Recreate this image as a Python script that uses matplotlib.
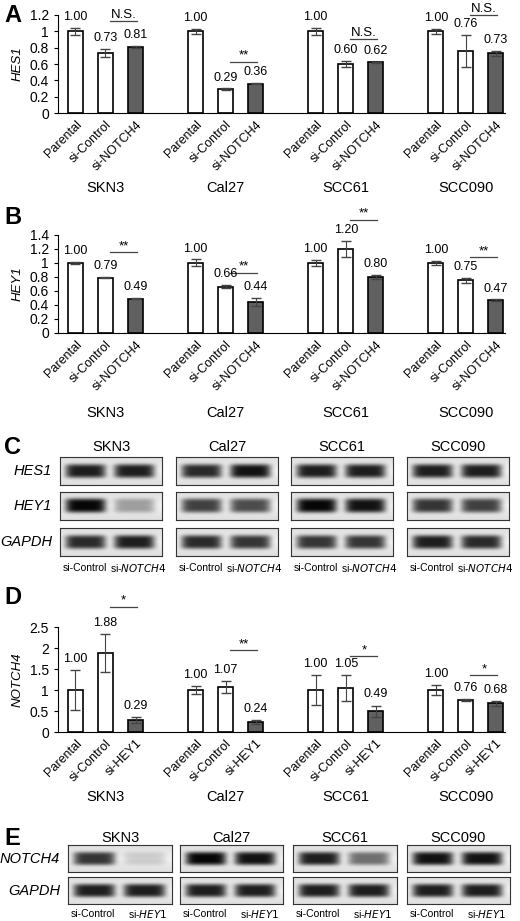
import numpy as np
from matplotlib import pyplot as plt

W, H = 520, 921
lines = ["SKN3", "Cal27", "SCC61", "SCC090"]

hes1 = [[1.00, 0.73, 0.81], [1.00, 0.29, 0.36], [1.00, 0.60, 0.62], [1.00, 0.76, 0.73]]
hes1_err = [[0.04, 0.05, 0.01], [0.03, 0.01, 0.005], [0.04, 0.04, 0.01], [0.03, 0.20, 0.03]]
hes1_sig = ["N.S.", "**", "N.S.", "N.S."]
hes1_sig_y = [1.13, 0.63, 0.91, 1.2]

hey1 = [[1.00, 0.79, 0.49], [1.00, 0.66, 0.44], [1.00, 1.20, 0.80], [1.00, 0.75, 0.47]]
hey1_err = [[0.01, 0.01, 0.005], [0.05, 0.02, 0.06], [0.04, 0.11, 0.03], [0.03, 0.03, 0.01]]
hey1_sig = ["**", "**", "**", "**"]
hey1_sig_y = [1.15, 0.86, 1.62, 1.08]

notch4 = [[1.00, 1.88, 0.29], [1.00, 1.07, 0.24], [1.00, 1.05, 0.49], [1.00, 0.76, 0.68]]
notch4_err = [[0.48, 0.45, 0.07], [0.10, 0.15, 0.05], [0.36, 0.30, 0.14], [0.11, 0.02, 0.06]]
notch4_sig = ["*", "**", "*", "*"]
notch4_sig_y = [2.98, 1.95, 1.80, 1.35]

# western blot band intensities (left lane, right lane)
blot_c = {"HES1": [[0.9, 0.9], [0.85, 0.95], [0.9, 0.9], [0.9, 0.9]],
          "HEY1": [[1.0, 0.35], [0.75, 0.7], [1.0, 0.95], [0.8, 0.75]],
          "GAPDH": [[0.85, 0.9], [0.85, 0.8], [0.8, 0.8], [0.9, 0.85]]}
blot_e = {"NOTCH4": [[0.8, 0.15], [1.0, 0.95], [0.9, 0.55], [0.95, 0.95]],
          "GAPDH": [[0.9, 0.9], [0.9, 0.9], [0.9, 0.9], [0.9, 0.9]]}

fig = plt.figure(figsize=(W / 100, H / 100), dpi=100)
plt.rcParams['font.family'] = ['Liberation Sans', 'DejaVu Sans']


def px_axes(x0, y0, x1, y1):
    return fig.add_axes([x0 / W, 1 - y1 / H, (x1 - x0) / W, (y1 - y0) / H])


def letter(s, x, y):
    fig.text(x / W, 1 - y / H, s, fontsize=17, fontweight='bold', va='center')


def bar_panel(top, bottom, vals, errs, sigs, sig_y, ymax, step, ylab, third, name_y):
    ax = px_axes(58, top, 505, bottom)
    for g in range(4):
        xs = [g * 4 + i for i in range(3)]
        cols = ['white', 'white', '#606060']
        ax.bar(xs, vals[g], 0.5, yerr=errs[g], color=cols, edgecolor='black', lw=1.2,
               error_kw=dict(ecolor='#444444', capsize=3.5, lw=0.8), clip_on=False)
        for x, v, e in zip(xs, vals[g], errs[g]):
            ax.text(x, v + e + ymax * 0.05, f"{v:.2f}", ha='center', va='bottom', fontsize=9)
        ax.plot([xs[1] + 0.15, xs[2] + 0.05], [sig_y[g]] * 2, color='#444444', lw=0.9, clip_on=False)
        ax.text((xs[1] + xs[2]) / 2 + 0.1, sig_y[g], sigs[g], ha='center', va='bottom', fontsize=9.5)
        fig.text((58 + (g * 4 + 1 + 0.58) / 14.88 * 447) / W, 1 - name_y / H, lines[g],
                 ha='center', va='center', fontsize=10.5)
    ax.set_xlim(-0.58, 14.3)
    ax.set_ylim(0, ymax)
    ticks = np.arange(0, ymax + 1e-6, step)
    ax.set_yticks(ticks)
    ax.set_yticklabels([f"{t:g}" for t in ticks], fontsize=10)
    ax.set_xticks([g * 4 + i for g in range(4) for i in range(3)])
    ax.set_xticklabels(["Parental", "si-Control", third] * 4, rotation=45, ha='right',
                       rotation_mode='anchor', fontsize=9)
    ax.tick_params(axis='x', length=0, pad=4)
    ax.tick_params(axis='y', length=3)
    for s in ['top', 'right']:
        ax.spines[s].set_visible(False)
    ax.set_ylabel(ylab, fontstyle='italic', fontsize=9.5)


def blot(bands, title_y, row_tops, row_h, label_y, right_label, xs):
    xx = np.linspace(0, 1, 200)
    yy = np.linspace(-1, 1, 60)
    X, Y = np.meshgrid(xx, yy)
    for g, (x0, x1) in enumerate(xs):
        fig.text((x0 + x1) / 2 / W, 1 - title_y / H, lines[g], ha='center', va='center', fontsize=10.5)
        for r, (name, vals) in enumerate(bands.items()):
            ax = px_axes(x0, row_tops[r], x1, row_tops[r] + row_h)
            img = 0.95 - 0.08 * np.abs(Y)
            for lane, c in zip([0.25, 0.73], vals[g]):
                band = np.exp(-((X - lane) / 0.2) ** 6) * np.exp(-(Y / 0.5) ** 4)
                img = img - c * 0.92 * band
            ax.imshow(np.clip(img, 0, 1), cmap='gray', vmin=0, vmax=1, aspect='auto',
                      interpolation='bilinear')
            ax.set_xticks([])
            ax.set_yticks([])
            for s in ax.spines.values():
                s.set_color('#333333')
            if g == 0:
                fig.text((x0 - 8) / W, 1 - (row_tops[r] + row_h / 2) / H, name, ha='right',
                         va='center', fontsize=10.5, fontstyle='italic')
        fig.text((x0 + (x1 - x0) * 0.24) / W, 1 - label_y / H, "si-Control", ha='center', va='center', fontsize=7.5)
        fig.text((x0 + (x1 - x0) * 0.77) / W, 1 - label_y / H, "si-$\\it{" + right_label + "}$",
                 ha='center', va='center', fontsize=7.5)


letter("A", 4, 15)
bar_panel(15, 113, hes1, hes1_err, hes1_sig, hes1_sig_y, 1.2, 0.2, "HES1", "si-NOTCH4", 188)
letter("B", 4, 217)
bar_panel(235, 333, hey1, hey1_err, hey1_sig, hey1_sig_y, 1.4, 0.2, "HEY1", "si-NOTCH4", 413)
letter("C", 4, 447)
cx = [(60, 162), (176, 278), (291, 393), (407, 509)]
blot(blot_c, 447, [457, 492, 528], 28, 568, "NOTCH4", cx)
letter("D", 4, 597)
bar_panel(627, 732, notch4, notch4_err, notch4_sig, notch4_sig_y, 2.5, 0.5, "NOTCH4", "si-HEY1", 797)
letter("E", 4, 838)
ex = [(68, 172), (180, 283), (293, 397), (407, 510)]
blot(blot_e, 838, [845, 877], 27, 914, "HEY1", ex)

fig.savefig("out.png", dpi=100)
